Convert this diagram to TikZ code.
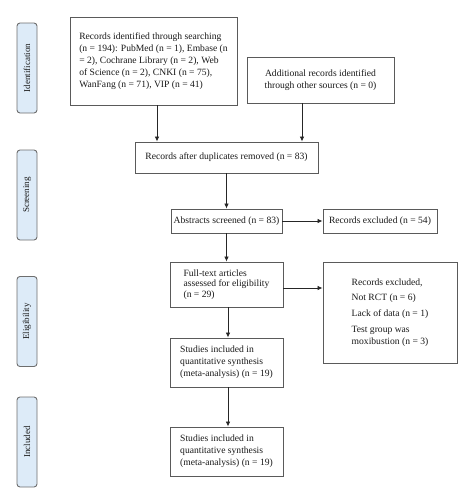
\documentclass[tikz,border=0pt]{standalone}
\usepackage{fontspec}
\setmainfont{Liberation Serif}
\usetikzlibrary{arrows.meta,calc}
\definecolor{boxline}{HTML}{5A5A5A}
\definecolor{sidefill}{HTML}{DDEBF8}
\definecolor{sideline}{HTML}{6E6E6E}
\definecolor{txt}{HTML}{1A1A1A}
\begin{document}
\begin{tikzpicture}[x=1pt,y=-1pt,
  box/.style={draw=boxline, line width=0.9pt, fill=white, inner sep=0pt, text=txt,
    font=\fontsize{9.6}{11.9}\selectfont},
  side/.style={draw=sideline, line width=0.9pt, fill=sidefill, rounded corners=3pt,
    minimum width=20pt, minimum height=90pt, inner sep=0pt, text=txt,
    font=\fontsize{9}{10}\selectfont},
  arr/.style={draw=black!85, line width=0.8pt, -{Latex[length=5pt,width=4.5pt]}}]
\useasboundingbox (0,0) rectangle (474,504);
% side labels
\node[side] (s1) at (27,68) {\rotatebox{90}{Identification}};
\node[side] (s2) at (27,195) {\rotatebox{90}{Screening}};
\node[side] (s3) at (27,321.5) {\rotatebox{90}{Eligibility}};
\node[side] (s4) at (27,442) {\rotatebox{90}{Included}};
% boxes
\node[box, minimum width=167pt, minimum height=88pt, align=left] (b1) at (153.5,61)
  {Records identified through searching\\(n = 194): PubMed (n = 1), Embase (n\\= 2), Cochrane Library (n = 2), Web\\of Science (n = 2), CNKI (n = 75),\\WanFang (n = 71), VIP (n = 41)};
\node[box, minimum width=147pt, minimum height=46pt, align=center] (b2) at (320.5,80)
  {Additional records identified\\through other sources (n = 0)};
\node[box, minimum width=183pt, minimum height=31pt] (b3) at (226.5,157.5)
  {Records after duplicates removed (n = 83)};
\node[box, minimum width=111pt, minimum height=24pt] (b4) at (226.5,221)
  {Abstracts screened (n = 83)};
\node[box, minimum width=114pt, minimum height=24pt] (b5) at (380,221)
  {Records excluded (n = 54)};
\node[box, minimum width=113pt, minimum height=45pt, align=left,
  font=\fontsize{9.6}{10.6}\selectfont] (b6) at (226.5,284.5)
  {Full-text articles\\assessed for eligibility\\(n = 29)};
\node[box, minimum width=134pt, minimum height=101pt, align=left] (b7) at (390,312.5)
  {Records excluded,\\[4pt]Not RCT (n = 6)\\[4pt]Lack of data (n = 1)\\[4pt]Test group was\\moxibustion (n = 3)};
\node[box, minimum width=113pt, minimum height=49pt, align=left] (b8) at (226.5,362.5)
  {Studies included in\\quantitative synthesis\\(meta-analysis) (n = 19)};
\node[box, minimum width=113pt, minimum height=49pt, align=left] (b9) at (226.5,451.5)
  {Studies included in\\quantitative synthesis\\(meta-analysis) (n = 19)};
% connectors
\draw[arr] ([xshift=3.5pt]b1.south) -- ([xshift=3.5pt]b1.south |- b3.north);
\draw[arr] ([xshift=-18.5pt]b2.south) -- ([xshift=-18.5pt]b2.south |- b3.north);
\draw[arr] (b3.south) -- (b4.north);
\draw[arr] (b4.east) -- (b5.west);
\draw[arr] (b4.south) -- (b6.north);
\draw[arr] ([yshift=-3.5pt]b6.east) -- ([yshift=-3.5pt]b6.east -| b7.west);
\draw[arr] ([xshift=1.5pt]b6.south) -- ([xshift=1.5pt]b8.north);
\draw[arr] ([xshift=1.5pt]b8.south) -- ([xshift=1.5pt]b9.north);
\end{tikzpicture}
\end{document}
